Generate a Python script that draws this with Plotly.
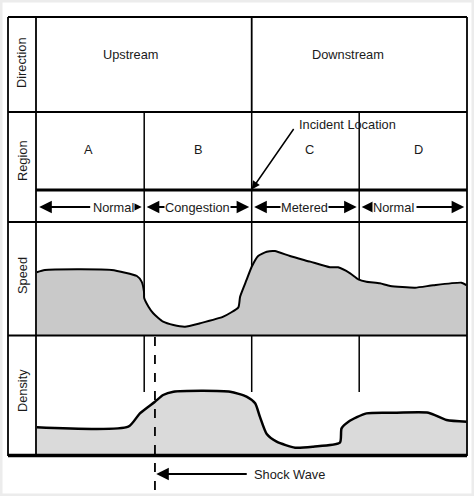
import plotly.graph_objects as go

# ---------------- data ----------------
road_pos_speed = [0, 1.9, 17.4, 23.3, 24.4, 24.95, 25.0, 26.0, 27.1, 29.4, 31.8, 34.5, 38.0, 43.4,
                  46.9, 47.3, 48.8, 50.0, 51.5, 53.5, 55.4, 58.9, 63.6, 68.2, 70.1, 72.9, 74.8,
                  76.7, 79.8, 82.2, 88.0, 92.2, 98.8, 100]
speed = [55.5, 57.5, 57.5, 52.2, 47.2, 38.3, 32.7, 25.0, 19.2, 11.8, 8.8, 7.3, 10.4, 16.2,
         24.5, 33.9, 48.7, 60.4, 69.9, 73.7, 74.3, 69.9, 64.9, 59.9, 59.9, 54.6, 49.3,
         47.2, 45.8, 43.4, 41.9, 44.0, 46.3, 44.0]

road_pos_density = [0, 21.3, 24.0, 27.5, 29.4, 31.8, 38.7, 45.0, 48.8, 50.8, 51.9, 53.5, 55.8,
                    60.1, 64.3, 70.5, 70.9, 72.5, 76.7, 83.7, 91.1, 95.3, 100]
density = [23.3, 23.8, 35.0, 44.8, 50.4, 53.2, 54.0, 53.2, 49.0, 43.4, 32.2, 17.6, 11.2,
           6.1, 7.0, 10.3, 22.4, 28.0, 35.0, 35.5, 35.5, 29.4, 28.0]

region_bounds = [0, 25, 50, 75, 100]
region_labels = ["A", "B", "C", "D"]
region_states = ["Normal", "Congestion", "Metered", "Normal"]
directions = ["Upstream", "Downstream"]
row_labels = ["Direction", "Region", "Speed", "Density"]
incident_pos = 50
shock_pos = 27.5

# ---------------- layout helpers ----------------
W, H = 474, 496
def px(x):
    return x / W
def py(y):
    return 1 - y / H

X0, X1 = 36.7, 466.7          # data area horizontal extent (px)
def road_px(r):
    return X0 + (X1 - X0) * r / 100.0

FONT = "Liberation Sans, Arial, sans-serif"
TXT = "#1a1a1a"
FS = 12.8

fig = go.Figure()

fig.add_trace(go.Scatter(x=road_pos_speed, y=speed, mode="lines", fill="tozeroy",
                         fillcolor="#c9c9c9",
                         line=dict(color="black", width=2, shape="spline", smoothing=0.5),
                         xaxis="x", yaxis="y", hoverinfo="skip", showlegend=False))
fig.add_trace(go.Scatter(x=road_pos_density, y=density, mode="lines", fill="tozeroy",
                         fillcolor="#dadada",
                         line=dict(color="black", width=2.5, shape="spline", smoothing=0.6),
                         xaxis="x2", yaxis="y2", hoverinfo="skip", showlegend=False))

shapes = []
def pline(x0, y0, x1, y1, w=1.8, **kw):
    shapes.append(dict(type="line", xref="paper", yref="paper",
                       x0=px(x0), y0=py(y0), x1=px(x1), y1=py(y1),
                       line=dict(color="black", width=w), **kw))

# frame
pline(8, 17, 467, 17)
pline(8, 17, 8, 456)
pline(467, 17, 467, 456)
pline(8, 455.5, 467, 455.5, w=3.5)
pline(36, 17, 36, 456)
pline(8, 112, 467, 112)
pline(36, 190, 467, 190, w=3.2)
pline(8, 222, 467, 222)
pline(8, 335.5, 467, 335.5)

# direction divider
shapes.append(dict(type="line", xref="x", yref="paper", x0=incident_pos, x1=incident_pos,
                   y0=py(17), y1=py(112), line=dict(color="black", width=1.8)))
# region dividers through region + state rows
for b in region_bounds[1:-1]:
    shapes.append(dict(type="line", xref="x", yref="paper", x0=b, x1=b,
                       y0=py(112), y1=py(222), line=dict(color="black", width=1.5)))
    # speed panel (hidden behind the fill)
    shapes.append(dict(type="line", xref="x", yref="y", x0=b, x1=b, y0=0, y1=100,
                       layer="below", line=dict(color="black", width=1.5)))
    # density panel
    shapes.append(dict(type="line", xref="x2", yref="paper", x0=b, x1=b,
                       y0=py(336), y1=py(392), line=dict(color="black", width=1.5)))

# shock wave dashed line
shapes.append(dict(type="line", xref="x2", yref="paper", x0=shock_pos, x1=shock_pos,
                   y0=py(337), y1=py(496), line=dict(color="black", width=1.8, dash="dash")))

# light outer edge
shapes.append(dict(type="rect", xref="paper", yref="paper", x0=0, y0=0, x1=1, y1=1,
                   line=dict(color="#ececec", width=5)))

ann = []
def text(x, y, s, size=FS, angle=0):
    ann.append(dict(xref="paper", yref="paper", x=px(x), y=py(y), text=s, showarrow=False,
                    textangle=angle, font=dict(family=FONT, size=size, color=TXT),
                    xanchor="center", yanchor="middle"))

# row labels
for lab, yc in zip(row_labels, [63, 161, 276, 391]):
    text(22, yc, lab, angle=-90)

# directions
text(130, 55, directions[0])
text(348, 55, directions[1])

# region letters
for lab, xc in zip(region_labels, [88, 198, 309, 418]):
    text(xc, 149, lab)

# state arrows
state_centers = [91.7, 197, 304, 415]
for i, (st, xc) in enumerate(zip(region_states, state_centers)):
    a, b = region_bounds[i], region_bounds[i + 1]
    la, lb = road_px(a) + 2.5, road_px(b) - 2.5
    for tip in (la, lb):
        ann.append(dict(xref="paper", yref="paper", x=px(tip), y=py(207), ax=xc - tip, ay=0,
                        axref="pixel", ayref="pixel", text="", showarrow=True,
                        arrowhead=2, arrowsize=1.4, arrowwidth=1.8, arrowcolor="black"))
    ann.append(dict(xref="paper", yref="paper", x=px(xc), y=py(207), text=st, showarrow=False,
                    bgcolor="white", borderpad=0,
                    font=dict(family=FONT, size=FS, color=TXT)))

# incident location
ann.append(dict(xref="x", yref="paper", x=incident_pos, y=py(189.5), ax=43, ay=-62,
                text="", showarrow=True, arrowhead=2, arrowsize=1.1, arrowwidth=1.5,
                arrowcolor="black"))
ann.append(dict(xref="paper", yref="paper", x=px(297), y=py(125), text="Incident Location",
                showarrow=False, xanchor="left", yanchor="middle",
                font=dict(family=FONT, size=FS, color=TXT)))

# shock wave
ann.append(dict(xref="x2", yref="paper", x=shock_pos + 0.3, y=py(474), ax=92, ay=0,
                text="", showarrow=True, arrowhead=2, arrowsize=1.4, arrowwidth=1.8,
                arrowcolor="black"))
ann.append(dict(xref="paper", yref="paper", x=px(252), y=py(474), text="Shock Wave",
                showarrow=False, xanchor="left", yanchor="middle",
                font=dict(family=FONT, size=FS, color=TXT)))

ax_common = dict(range=[0, 100], visible=False, fixedrange=True)
fig.update_layout(
    width=W, height=H, margin=dict(l=0, r=0, t=0, b=0),
    paper_bgcolor="white", plot_bgcolor="rgba(0,0,0,0)",
    xaxis=dict(domain=[px(X0), px(X1)], anchor="y", **ax_common),
    yaxis=dict(domain=[py(335), py(222)], anchor="x", **ax_common),
    xaxis2=dict(domain=[px(X0), px(X1)], anchor="y2", **ax_common),
    yaxis2=dict(domain=[py(455), py(336)], anchor="x2", **ax_common),
    shapes=shapes, annotations=ann, showlegend=False,
)

fig.write_html("out.html", config=dict(displayModeBar=False),
               post_script="document.body.style.margin='0';document.body.style.padding='0';")
